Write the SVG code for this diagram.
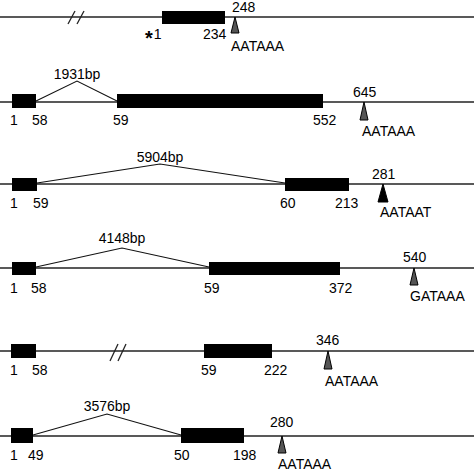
<svg xmlns="http://www.w3.org/2000/svg" width="474" height="474" viewBox="0 0 474 474">
<style>
.bb{fill:#fff}
.ln{stroke:#222;stroke-width:1.3;fill:none}
.in{stroke:#111;stroke-width:1.1;fill:none}
.ex{fill:#000}
.tri{fill:#555;stroke:#000;stroke-width:1}
.tris{fill:#000;stroke:#000;stroke-width:1}
text{font-family:"Liberation Sans",Arial,sans-serif;font-size:14px;fill:#000}
</style>
<rect class="bb" width="474" height="474"/>
<g id="connectors">
<line class="ln" x1="0" y1="17" x2="474" y2="17"/>
<line class="ln" x1="68" y1="24" x2="75" y2="11"/>
<line class="ln" x1="77" y1="24" x2="84" y2="11"/>
<line class="ln" x1="0" y1="102" x2="474" y2="102"/>
<polyline class="in" points="36,101 77,81 117,101"/>
<line class="ln" x1="0" y1="184" x2="474" y2="184"/>
<polyline class="in" points="37,183 160,164 285,183"/>
<line class="ln" x1="0" y1="268" x2="474" y2="268"/>
<polyline class="in" points="36,267 122,248 209,267"/>
<line class="ln" x1="0" y1="351" x2="474" y2="351"/>
<line class="ln" x1="110" y1="361" x2="118" y2="344"/>
<line class="ln" x1="118" y1="361" x2="126" y2="344"/>
<line class="ln" x1="0" y1="436" x2="474" y2="436"/>
<polyline class="in" points="33,435 107,414 181,435"/>
</g>
<g id="gene1">
<rect class="ex" x="162" y="11" width="63" height="13"/>
<polygon class="tri" points="235,17 231,33 239,33"/>
<text x="232" y="12">248</text>
<text x="145" y="39"><tspan font-size="20" font-weight="bold" dy="6">*</tspan><tspan dy="-6" dx="1">1</tspan></text>
<text x="203" y="39">234</text>
<text x="231" y="51">AATAAA</text>
</g>
<g id="gene2">
<rect class="ex" x="12" y="94" width="24" height="14"/>
<rect class="ex" x="117" y="94" width="206" height="14"/>
<polygon class="tri" points="364,102 360,120 368,120"/>
<text x="77" y="79" text-anchor="middle">1931bp</text>
<text x="10" y="125">1</text>
<text x="32" y="125">58</text>
<text x="113" y="125">59</text>
<text x="313" y="125">552</text>
<text x="353" y="97">645</text>
<text x="362" y="136">AATAAA</text>
</g>
<g id="gene3">
<rect class="ex" x="12" y="178" width="25" height="13"/>
<rect class="ex" x="285" y="178" width="64" height="13"/>
<polygon class="tris" points="383,184 378,202 388,202"/>
<text x="160" y="162" text-anchor="middle">5904bp</text>
<text x="10" y="208">1</text>
<text x="33" y="208">59</text>
<text x="280" y="208">60</text>
<text x="335" y="208">213</text>
<text x="372" y="179">281</text>
<text x="380" y="217">AATAAT</text>
</g>
<g id="gene4">
<rect class="ex" x="12" y="262" width="24" height="13"/>
<rect class="ex" x="209" y="262" width="131" height="13"/>
<polygon class="tri" points="414,268 410,285 418,285"/>
<text x="122" y="243" text-anchor="middle">4148bp</text>
<text x="10" y="293">1</text>
<text x="31" y="293">58</text>
<text x="204" y="293">59</text>
<text x="329" y="293">372</text>
<text x="403" y="262">540</text>
<text x="410" y="301">GATAAA</text>
</g>
<g id="gene5">
<rect class="ex" x="11" y="344" width="25" height="14"/>
<rect class="ex" x="204" y="344" width="68" height="14"/>
<polygon class="tri" points="328,351 324,369 332,369"/>
<text x="10" y="375">1</text>
<text x="32" y="375">58</text>
<text x="201" y="375">59</text>
<text x="264" y="375">222</text>
<text x="316" y="345">346</text>
<text x="325" y="386">AATAAA</text>
</g>
<g id="gene6">
<rect class="ex" x="11" y="428" width="22" height="15"/>
<rect class="ex" x="181" y="428" width="63" height="15"/>
<polygon class="tri" points="282,436 278,453 286,453"/>
<text x="107" y="411" text-anchor="middle">3576bp</text>
<text x="10" y="460">1</text>
<text x="28" y="460">49</text>
<text x="174" y="460">50</text>
<text x="233" y="460">198</text>
<text x="270" y="427">280</text>
<text x="278" y="469">AATAAA</text>
</g>
</svg>
